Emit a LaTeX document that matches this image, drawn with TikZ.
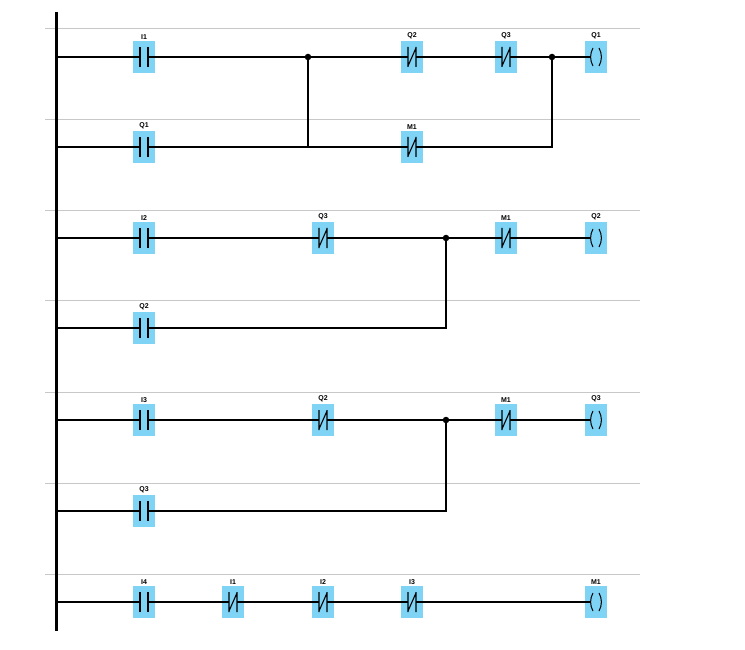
\documentclass[tikz,border=0pt]{standalone}
\usepackage{fontspec}
\setmainfont{Liberation Sans}
\usetikzlibrary{backgrounds}
\definecolor{box}{HTML}{7FD3F5}
\definecolor{grid}{HTML}{C8C8C8}
\tikzset{
  el/.style={draw=none,fill=box,minimum width=22pt,minimum height=32pt,inner sep=0pt,
    label={[font=\fontsize{7}{8}\selectfont\bfseries,inner sep=1.5pt]90:#1}},
  no/.style={el=#1,path picture={
    \draw[line width=1.1pt] ([xshift=-4pt,yshift=-10pt]path picture bounding box.center)--++(0,20pt)
      ([xshift=4pt,yshift=-10pt]path picture bounding box.center)--++(0,20pt);
    \draw[line width=1.2pt] (path picture bounding box.west)--++(7pt,0) (path picture bounding box.east)--++(-7pt,0);}},
  nc/.style={el=#1,path picture={
    \draw[line width=1.1pt] ([xshift=-4pt,yshift=-10pt]path picture bounding box.center)--++(0,20pt)
      ([xshift=4pt,yshift=-10pt]path picture bounding box.center)--++(0,20pt)
      ([xshift=-4pt,yshift=-9pt]path picture bounding box.center)--([xshift=4pt,yshift=9pt]path picture bounding box.center);
    \draw[line width=1.2pt] (path picture bounding box.west)--++(7pt,0) (path picture bounding box.east)--++(-7pt,0);}},
  coil/.style={el=#1,path picture={
    \draw[line width=1pt] ([xshift=-3pt,yshift=9pt]path picture bounding box.center) arc[start angle=150,end angle=210,radius=18pt];
    \draw[line width=1pt] ([xshift=3pt,yshift=9pt]path picture bounding box.center) arc[start angle=30,end angle=-30,radius=18pt];
    \draw[line width=1.2pt] (path picture bounding box.west)--++(6pt,0);}},
  wire/.style={line width=1.2pt},
  dot/.style={circle,fill,inner sep=0pt,minimum size=6.5pt},
}
\begin{document}
\begin{tikzpicture}[x=1pt,y=-1pt]
\useasboundingbox (0,0) rectangle (745,650);
\node[no=I1] (i1a) at (144,57) {};
\node[nc=Q2] (q2a) at (412,57) {};
\node[nc=Q3] (q3a) at (506,57) {};
\node[coil=Q1] (q1c) at (596,57) {};
\node[dot] (j1) at (308,57) {};
\node[dot] (j2) at (552,57) {};
\node[no=Q1] (q1a) at (144,147) {};
\node[nc=M1] (m1a) at (412,147) {};
\coordinate (b1) at (308,147);
\coordinate (b2) at (552,147);
\node[no=I2] (i2a) at (144,238) {};
\node[nc=Q3] (q3b) at (323,238) {};
\node[dot] (j3) at (446,238) {};
\node[nc=M1] (m1b) at (506,238) {};
\node[coil=Q2] (q2c) at (596,238) {};
\node[no=Q2] (q2b) at (144,328) {};
\coordinate (b3) at (446,328);
\node[no=I3] (i3a) at (144,420) {};
\node[nc=Q2] (q2d) at (323,420) {};
\node[dot] (j4) at (446,420) {};
\node[nc=M1] (m1c) at (506,420) {};
\node[coil=Q3] (q3c) at (596,420) {};
\node[no=Q3] (q3d) at (144,511) {};
\coordinate (b4) at (446,511);
\node[no=I4] (i4a) at (144,602) {};
\node[nc=I1] (i1b) at (233,602) {};
\node[nc=I2] (i2b) at (323,602) {};
\node[nc=I3] (i3b) at (412,602) {};
\node[coil=M1] (m1d) at (596,602) {};
\coordinate (rt) at (56,12);
\coordinate (rb) at (56,631);
\foreach \y/\n in {57/r1,147/r2,238/r3,328/r4,420/r5,511/r6,602/r7} \coordinate (\n) at (56,\y);
\begin{scope}[on background layer]
\foreach \y in {28,119,210,300,392,483,574} \draw[grid,line width=0.7pt] (45,\y)--(640,\y);
\draw[line width=3pt] (rt)--(rb);
\draw[wire] (r1)--(i1a.center) (i1a.center)--(j1.center)--(q2a.center) (q2a.center)--(q3a.center) (q3a.center)--(j2.center)--(q1c.center);
\draw[wire] (r2)--(q1a.center) (q1a.center)--(b1)--(m1a.center) (m1a.center)--(b2)--(j2.center);
\draw[wire] (j1.center)--(b1);
\draw[wire] (r3)--(i2a.center) (i2a.center)--(q3b.center) (q3b.center)--(j3.center)--(m1b.center) (m1b.center)--(q2c.center);
\draw[wire] (r4)--(q2b.center) (q2b.center)--(b3)--(j3.center);
\draw[wire] (r5)--(i3a.center) (i3a.center)--(q2d.center) (q2d.center)--(j4.center)--(m1c.center) (m1c.center)--(q3c.center);
\draw[wire] (r6)--(q3d.center) (q3d.center)--(b4)--(j4.center);
\draw[wire] (r7)--(i4a.center) (i4a.center)--(i1b.center) (i1b.center)--(i2b.center) (i2b.center)--(i3b.center) (i3b.center)--(m1d.center);
\end{scope}
\end{tikzpicture}
\end{document}
